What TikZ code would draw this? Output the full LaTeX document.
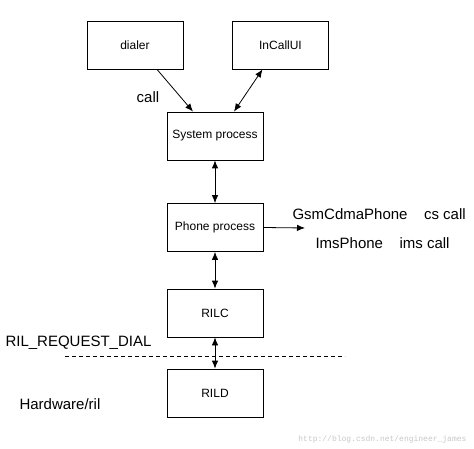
\documentclass[tikz,border=0pt]{standalone}
\usepackage{fontspec}
\setmainfont{Liberation Sans}
\newfontfamily\markfont{Liberation Mono}
\usetikzlibrary{arrows.meta}
\tikzset{
    procbox/.style={draw, line width=0.8pt, minimum width=96pt, minimum height=48pt, font=\fontsize{12}{14}\selectfont},
    biglabel/.style={font=\fontsize{15}{17}\selectfont},
    link/.style={line width=0.8pt, >={Latex[length=8pt,width=6.5pt]}}
}
\begin{document}
\begin{tikzpicture}[x=1pt,y=-1pt]
                \useasboundingbox (0,0) rectangle (474,449);
                % boxes
                \node[procbox] (dialer) at (135,45) {dialer};
                \node[procbox] (incall) at (280.5,45) {InCallUI};
                \node[procbox] (sys) at (215,136) {System process};
                \node[procbox] (phone) at (215,227.5) {Phone process};
                \node[procbox] (rilc) at (215,313) {RILC};
                \node[procbox] (rild) at (215,393) {RILD};

                % connectors
                \draw[link,->] ([xshift=22pt]dialer.south) -- ([xshift=-22pt]sys.north);
                \draw[link,<->] ([xshift=-18pt]incall.south) -- ([xshift=19pt]sys.north);
                \draw[link,<->] (sys) -- (phone);
                \draw[link,<->] (phone) -- (rilc);
                \draw[link,<->] (rilc) -- (rild);
                \coordinate (out) at (305,228);
                \draw[link,->] (phone.east) -- (out);

                % labels
                \node[biglabel] (call) at (148,97) {call};
                \node[biglabel, anchor=west] (gsm) at (289,214) {GsmCdmaPhone\hspace{1.1em}cs call};
                \node[biglabel, anchor=west] (ims) at (312,243) {ImsPhone\hspace{1.1em}ims call};
                \node[biglabel, anchor=west] (req) at (2,343) {RIL\_REQUEST\_DIAL};
                \node[biglabel, anchor=west] (hw) at (16,404) {Hardware/ril};

                % boundary
                \coordinate (cutl) at (65,356);
                \coordinate (cutr) at (345,356);
                \draw[line width=0.8pt, dash pattern=on 4pt off 3pt] (cutl) -- (cutr);

                \node[anchor=east, text=black!22, font=\markfont\fontsize{8}{9}\selectfont] (mark) at (470,439) {http://blog.csdn.net/engineer\_james};
            \end{tikzpicture}
\end{document}
